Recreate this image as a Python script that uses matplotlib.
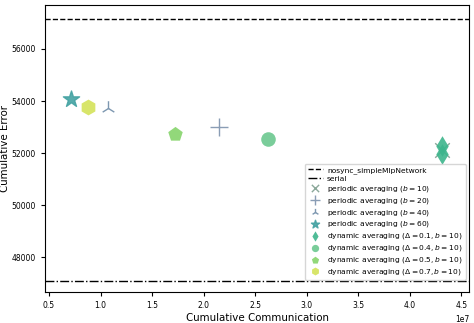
import matplotlib.pyplot as plt

# reference lines
nosync_err = 57150
serial_err = 47100

# periodic averaging (b = 10, 20, 40, 60)
per_labels = ["periodic averaging ($b=10$)", "periodic averaging ($b=20$)",
              "periodic averaging ($b=40$)", "periodic averaging ($b=60$)"]
per_comm = [[4.31e7], [2.15e7], [1.07e7], [0.71e7]]
per_err = [[52130], [53010], [53750], [54090]]

# dynamic averaging (delta = 0.1, 0.4, 0.5, 0.7)
dyn_labels = [r"dynamic averaging ($\Delta=0.1, b=10$)", r"dynamic averaging ($\Delta=0.4, b=10$)",
              r"dynamic averaging ($\Delta=0.5, b=10$)", r"dynamic averaging ($\Delta=0.7, b=10$)"]
dyn_comm = [[4.31e7, 4.31e7], [2.62e7], [1.72e7], [0.88e7]]
dyn_err = [[52290, 51980], [52550], [52740], [53760]]

per_markers = ["x", "+", "2", "*"]
per_colors = ["#7f9f8f", "#7d93ad", "#6f8ca8", "#45a3a3"]
per_sizes = [110, 170, 110, 150]
dyn_markers = ["d", "o", "p", "h"]
dyn_colors = ["#3db58c", "#6cc88f", "#86d46c", "#d4e35a"]
dyn_sizes = [110, 110, 120, 130]

fig, ax = plt.subplots(figsize=(4.74, 3.23), dpi=100)

ax.axhline(nosync_err, color="black", ls="--", lw=1.0, label="nosync_simpleMlpNetwork")
ax.axhline(serial_err, color="black", ls="-.", lw=1.0, label="serial")

for i in range(4):
    ax.scatter(per_comm[i], per_err[i], marker=per_markers[i], s=per_sizes[i],
               color=per_colors[i], alpha=0.9, label=per_labels[i], linewidths=1.0)
for i in range(4):
    ax.scatter(dyn_comm[i], dyn_err[i], marker=dyn_markers[i], s=dyn_sizes[i],
               color=dyn_colors[i], alpha=0.9, label=dyn_labels[i], linewidths=0)

ax.set_xlim(0.461e7, 4.577e7)
ax.set_ylim(46660, 57690)
ax.set_yticks([48000, 50000, 52000, 54000, 56000])
ax.tick_params(labelsize=5.5, length=3)
ax.xaxis.get_offset_text().set_fontsize(5.5)
ax.set_xlabel("Cumulative Communication", fontsize=7.4, labelpad=2)
ax.set_ylabel("Cumulative Error", fontsize=7.4)
ax.yaxis.set_label_coords(-0.083, 0.5)

ax.legend(loc="lower right", fontsize=5.4, bbox_to_anchor=(1.0, 0.03), markerscale=0.5,
          labelspacing=0.25, handletextpad=0.6, scatterpoints=1)

plt.subplots_adjust(left=0.095, right=0.99, top=0.985, bottom=0.095)
plt.savefig("out.png")
